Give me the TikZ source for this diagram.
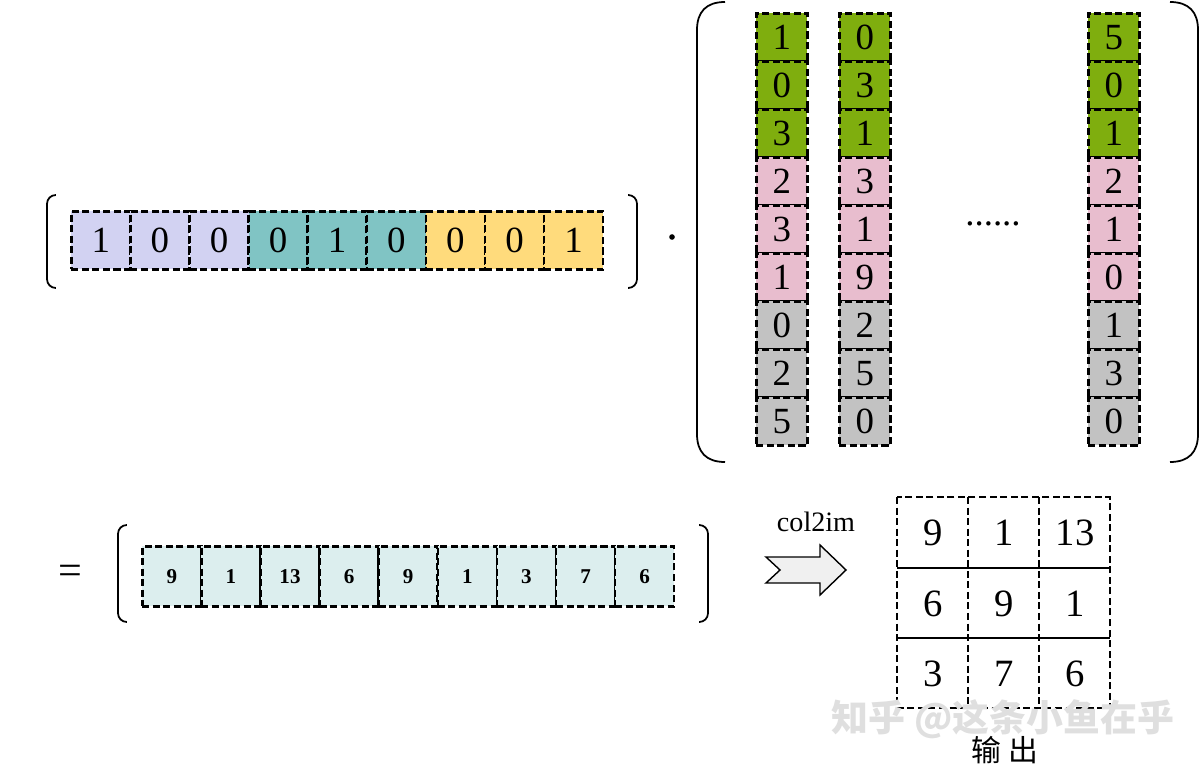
\documentclass[tikz,border=0pt]{standalone}
\usepackage{fontspec}
\setmainfont{Liberation Serif}
\newfontfamily\cjk{Noto Sans CJK SC}
\begin{document}
\begin{tikzpicture}[x=0.02cm,y=-0.02cm,
 dsh/.style={line width=1.5pt,dash pattern=on 4pt off 2pt},
 cell/.style={draw,dsh,minimum width=59*0.02cm,minimum height=58*0.02cm,inner sep=0,font=\fontsize{21}{21}\selectfont,anchor=north west},
 vcell/.style={draw,dsh,minimum width=51*0.02cm,minimum height=48*0.02cm,inner sep=0,font=\fontsize{21}{21}\selectfont,anchor=north west},
 scell/.style={cell,minimum height=60*0.02cm,font=\fontsize{12}{12}\selectfont\bfseries,fill=rc},
 br/.style={line width=1pt,rounded corners=5pt}]
\definecolor{la}{HTML}{D2D2F2}\definecolor{te}{HTML}{80C4C4}\definecolor{ye}{HTML}{FFDB7C}
\definecolor{gr}{HTML}{7FAE0E}\definecolor{pk}{HTML}{E8BDCE}\definecolor{gy}{HTML}{C2C2C2}
\definecolor{rc}{HTML}{DCEEEE}
\useasboundingbox (0,0) rectangle (1200,773);
% row vector
\foreach \v/\c [count=\i from 0] in {1/la,0/la,0/la,0/te,1/te,0/te,0/ye,0/ye,1/ye}
  \node[cell,fill=\c] (r\i) at (70+\i*59.1,210) {\v};
\draw[br] (55,195) -- (47,195) -- (47,288) -- (55,288);
\draw[br] (629,195) -- (637,195) -- (637,288) -- (629,288);
\fill (672,237) circle[radius=1.6pt];
% big paren
\draw[line width=1pt] (725,2) .. controls (706,2) and (697,12) .. (697,30) -- (697,434) .. controls (697,452) and (706,462) .. (725,462);
\draw[line width=1pt] (1170,2) .. controls (1189,2) and (1198,12) .. (1198,30) -- (1198,434) .. controls (1198,452) and (1189,462) .. (1170,462);
\foreach \x/\n/\vals in {755/a/{1,0,3,2,3,1,0,2,5},838/b/{0,3,1,3,1,9,2,5,0},1087/c/{5,0,1,2,1,0,1,3,0}}{
  \foreach \v [count=\j from 0] in \vals {
    \pgfmathsetmacro\cc{\j<3?"gr":(\j<6?"pk":"gy")}
    \node[vcell,fill=\cc] (\n\j) at (\x,12+\j*48) {\v};
  }}
\node[font=\fontsize{21}{21}\selectfont] (dots) at (993,224) {......};
% result
\node[font=\fontsize{24}{24}\selectfont] (eq) at (70,575) {=};
\draw[br] (126,525) -- (118,525) -- (118,622) -- (126,622);
\draw[br] (700,525) -- (708,525) -- (708,622) -- (700,622);
\foreach \v [count=\i from 0] in {9,1,13,6,9,1,3,7,6}
  \node[scell] (s\i) at (141+\i*59.1,545) {\v};
\node[font=\fontsize{16}{16}\selectfont] (lab) at (816,522) {col2im};
\draw[line width=0.8pt,fill=gray!12] (766,557) -- (820,557) -- (820,545) -- (846,570) -- (820,595) -- (820,583) -- (766,583) -- (780,570) -- cycle;
% output grid
\foreach \v [count=\k from 0] in {9,1,13,6,9,1,3,7,6}{
  \pgfmathtruncatemacro\cx{mod(\k,3)}\pgfmathtruncatemacro\cy{div(\k,3)}
  \node[inner sep=0,font=\fontsize{22}{22}\selectfont] (o\k) at (933+\cx*71,533+\cy*70.5) {\v};}
\draw[dsh,line width=1.6pt] (897,497) rectangle (1110,708);
\draw[dsh,line width=1.6pt] (968,497) -- (968,708) (1039,497) -- (1039,708);
\draw[line width=1.6pt] (897,568) -- (1110,568) (897,638) -- (1110,638);
\node[font=\cjk\fontsize{17}{17}\selectfont] (out) at (1005,750) {输 出};
\node[font=\cjk\bfseries\fontsize{21}{21}\selectfont,text=gray!25] (wm) at (1003,719) {知乎 @这条小鱼在乎};
\end{tikzpicture}
\end{document}
